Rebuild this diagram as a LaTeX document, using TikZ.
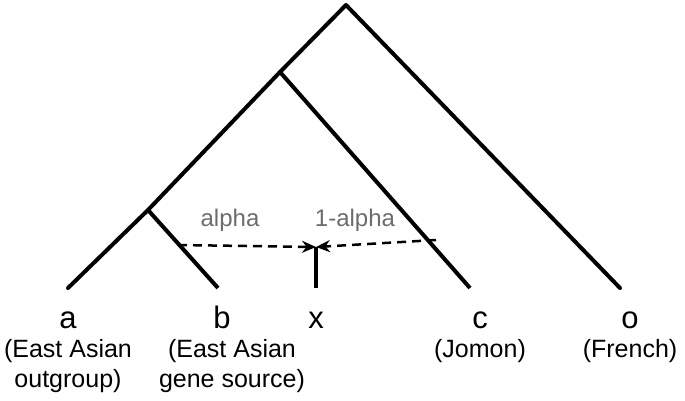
\documentclass[tikz,border=0pt]{standalone}
\usepackage{fontspec}
\setmainfont{Liberation Sans}
\usetikzlibrary{arrows.meta}
\begin{document}
\begin{tikzpicture}[x=1pt,y=-1pt,
  br/.style={line width=4pt},
  mig/.style={line width=2.5pt,dashed,dash pattern=on 9pt off 6pt,-{Stealth[length=14pt,width=12pt]}},
  lab/.style={font=\fontsize{31}{33}\selectfont,anchor=base},
  sub/.style={font=\fontsize{25}{30}\selectfont,align=center,anchor=north},
  gl/.style={font=\fontsize{24}{26}\selectfont,text=gray!85!black,anchor=base}]
\useasboundingbox (0,0) rectangle (685,400);
\coordinate (r) at (346,5);
\coordinate (n1) at (280,72);
\coordinate (n2) at (148,210);
\coordinate (a) at (68,288);
\coordinate (b) at (218,288);
\coordinate (c) at (470,288);
\coordinate (o) at (620,288);
\coordinate (xt) at (316,247);
\coordinate (xb) at (316,288);
\coordinate (sb) at (178,245);
\coordinate (sc) at (436,240);
\draw[br,line cap=round,line join=round] (a) -- (n2) -- (n1) -- (r) -- (o);
\draw[br] (n1) -- (c);
\draw[br] (n2) -- (b);
\draw[br] (xt) -- (xb);
\draw[mig] (sb) -- (xt);
\draw[mig] (sc) -- (xt);
\node[gl] (la) at (230,226) {alpha};
\node[gl] (lb) at (355,226) {1-alpha};
\node[lab] (ta) at (68,328) {a};
\node[lab] (tb) at (222,328) {b};
\node[lab] (tx) at (316,328) {x};
\node[lab] (tc) at (480,328) {c};
\node[lab] (to) at (630,328) {o};
\node[sub] (sa) at (68,336) {(East Asian\\outgroup)};
\node[sub] (sbb) at (232,336) {(East Asian\\gene source)};
\node[sub] (scc) at (480,336) {(Jomon)};
\node[sub] (soo) at (630,336) {(French)};
\end{tikzpicture}
\end{document}
